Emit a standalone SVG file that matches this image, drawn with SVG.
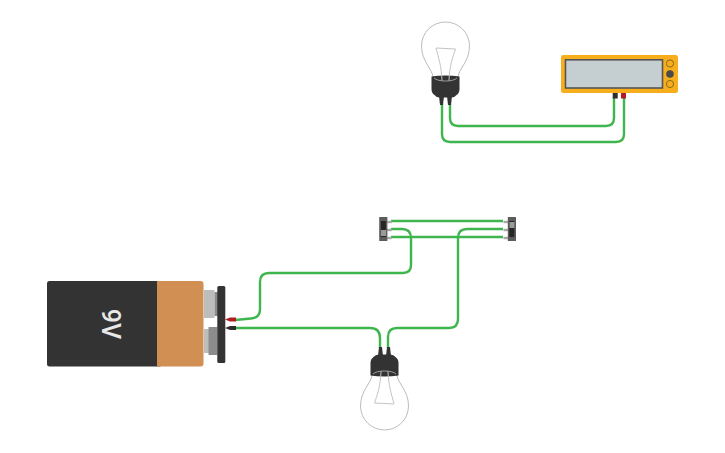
<svg xmlns="http://www.w3.org/2000/svg" width="725" height="453" viewBox="0 0 725 453">
<style>
.wire{fill:none;stroke:#3fb54d;stroke-width:2.4;stroke-linecap:butt}
.dark{fill:#333333}
.glass{fill:#ffffff;stroke:#bcbcbc;stroke-width:1}
.fil{fill:none;stroke:#c4c4c4;stroke-width:1}
.ring{fill:none;stroke:#b8b8b8;stroke-width:0.8}
.term{fill:#a8a8a8}
.sw{fill:#5c5c5c}
.swi{fill:#262626}
.slider{fill:#9a9a9a}
.btn{fill:#f6ae1d;stroke:#8a6a1c;stroke-width:1}
</style>
<defs>
<g id="bulb">
<path class="glass" d="M-12,57C-13,46-24,40-24,24A24,24 0 0 1 24,24C24,40 13,46 12,57Z"/>
<path class="dark" d="M-14,54.500Q-8,53.500 0,53.500Q8,53.500 14,54.500L14,67Q14,71 11,73Q9,75.500 6,75.500H-6Q-9,75.500-11,73Q-14,71-14,67Z"/>
<path class="ring" d="M-11.500,56C-8,60 8,60 11.500,56"/>
<path class="fil" d="M-3.500,58.500C-4,44-7,36-9.500,26L10,27C7,36 4,44 3.500,58.500"/>
<path class="dark" d="M-6.500,74H-1.500L-2.500,83H-5.500ZM1.500,74H6.500L5.500,83H2.500Z"/>
</g>
<g id="switch">
<rect class="term" x="8" y="2.800" width="4.500" height="2.400"/>
<rect class="term" x="8" y="10.800" width="4.500" height="2.400"/>
<rect class="term" x="8" y="18.800" width="4.500" height="2.400"/>
<rect class="sw" x="0" y="-1" width="8.200" height="24" rx="0.500"/>
<rect class="swi" x="1.700" y="3" width="5" height="16"/>
</g>
</defs>
<g id="connectors">
<path class="wire" d="M450,104V118Q450,126 458,126H606Q614,126 614,118V97"/>
<path class="wire" d="M442,104V134Q442,142 450,142H616Q624,142 624,134V97"/>
<path class="wire" d="M391,221H503"/>
<path class="wire" d="M391,237H503"/>
<path class="wire" d="M391,229H402Q411,229 411,238V265Q411,273 403,273H269Q260,273 260,282V309Q260,318 251,318.500L235,320"/>
<path class="wire" d="M503,229H467Q458,229 458,238V319Q458,328 449,328H397Q388,328 388,337V348"/>
<path class="wire" d="M235,328H370Q380,328 380,338V348"/>
</g>
<g id="bulb-top"><use href="#bulb" transform="translate(445.500,22)"/></g>
<g id="bulb-bottom"><use href="#bulb" transform="translate(384.500,430) rotate(180)"/></g>
<g id="multimeter">
<rect x="561" y="55" width="117" height="38" rx="2.500" fill="#f6ae1d"/>
<rect x="565.500" y="59.800" width="97" height="28.200" fill="#c5cfd2" stroke="#555555" stroke-width="1.600"/>
<circle class="btn" cx="670" cy="63.500" r="3.600"/>
<circle cx="670" cy="74" r="3.800" fill="#4a4a4a"/>
<circle class="btn" cx="670" cy="84" r="3.600"/>
<rect x="612.700" y="93" width="5" height="5.500" fill="#2e2e2e"/>
<rect x="621" y="93" width="5" height="5.500" fill="#b01e23"/>
</g>
<g id="switch-left"><use href="#switch" transform="translate(379.200,218)"/><rect class="slider" x="381" y="230" width="5" height="6"/></g>
<g id="switch-right"><use href="#switch" transform="translate(516,218) scale(-1,1)"/><rect class="slider" x="509.500" y="222" width="5" height="6"/></g>
<g id="battery">
<rect x="47" y="281" width="115" height="85.500" rx="2.500" fill="#333333"/>
<path d="M157,281H200.500Q203.500,281 203.500,284V363.500Q203.500,366.500 200.500,366.500H157Z" fill="#d18f53"/>
<rect x="204" y="290" width="10.500" height="28" fill="#bdbdbd"/>
<rect x="214.500" y="292" width="3.500" height="24" fill="#8c8c8c"/>
<rect x="204" y="329" width="5" height="24" fill="#bdbdbd"/>
<rect x="208.500" y="327" width="9" height="28" fill="#8c8c8c"/>
<rect x="217.300" y="286" width="8" height="77" rx="1.500" fill="#333333"/>
<path d="M225,319.500L230,317.500H236V321.500H230Z" fill="#b01e23"/>
<path d="M225,328L230,326H236V330H230Z" fill="#2e2e2e"/>
<text x="0" y="0" transform="translate(102,324) rotate(90)" font-family="Roboto, sans-serif" font-size="25" font-weight="500" fill="#e8e8e8" text-anchor="middle">9V</text>
</g>
</svg>
